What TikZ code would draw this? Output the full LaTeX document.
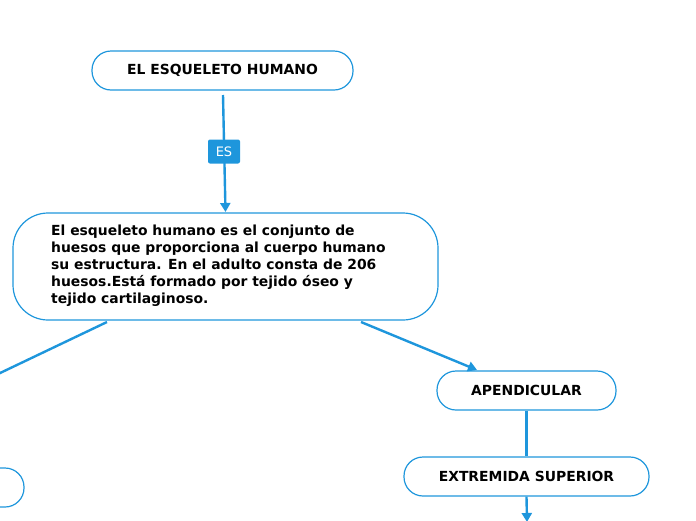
\documentclass[tikz,border=0pt]{standalone}
\usepackage{fontspec}
\setmainfont{DejaVu Sans}
\usetikzlibrary{arrows.meta}
\definecolor{bl}{HTML}{1E96DC}
\begin{document}
\begin{tikzpicture}[x=1pt,y=-1pt,
  box/.style={draw=bl,line width=1.2pt,rounded corners=19pt,font=\bfseries\fontsize{13.9}{16}\selectfont,inner sep=0pt},
  con/.style={draw=bl,line width=2.4pt},
  arr/.style={con,-{Triangle[length=9pt,width=10pt]}}]
\useasboundingbox (0,0) rectangle (696,520);
\node[box,minimum width=261pt,minimum height=39pt] (a) at (222.5,70.5) {EL ESQUELETO HUMANO};
\node[box,rounded corners=35pt,minimum width=425pt,minimum height=107pt] (b) at (225.5,266.5) {};
\node[anchor=north west,align=left,font=\bfseries\fontsize{13.9}{17}\selectfont,inner sep=0pt] (bt) at (51,225) { El esqueleto humano es el conjunto de\\huesos que proporciona al cuerpo humano\\su estructura. En el adulto consta de 206\\huesos.Está formado por tejido óseo y\\tejido cartilaginoso.};
\node[box,minimum width=179pt,minimum height=39pt] (c) at (526.5,390.5) {APENDICULAR};
\node[box,minimum width=245pt,minimum height=39pt] (d) at (526.5,476.5) {EXTREMIDA SUPERIOR};
\node[box,minimum width=60pt,minimum height=39pt] (e) at (-6,487.5) {};
\coordinate (a1) at (223,95);
\coordinate (b1) at (225.5,212);
\draw[arr] (a1) -- (b1);
\node[fill=bl,rounded corners=2pt,text=white,font=\fontsize{13}{15}\selectfont,minimum width=32pt,minimum height=24pt,inner sep=0pt] (es) at (224,151.5) {ES};
\coordinate (b2) at (107,322);
\coordinate (off) at (-2,374);
\draw[con] (b2) -- (off);
\coordinate (b3) at (361,322);
\coordinate (c1) at (477,370);
\draw[arr] (b3) -- (c1);
\draw[con] (c.south) -- (d.north);
\coordinate (bot) at (527,522);
\draw[arr] (d.south) -- (bot);
\end{tikzpicture}
\end{document}
